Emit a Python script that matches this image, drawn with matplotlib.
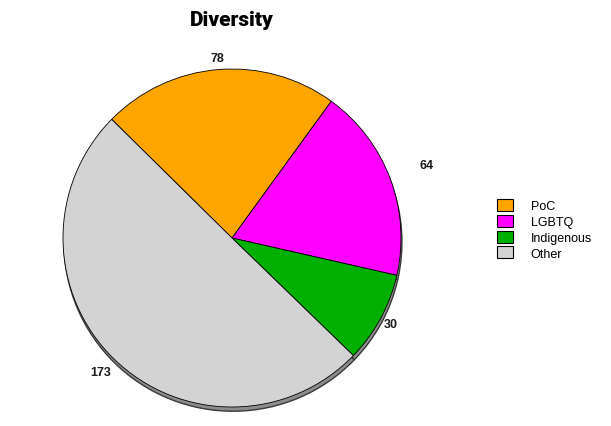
import numpy as np
import matplotlib.pyplot as plt
from matplotlib.patches import Patch

categories = ['PoC', 'LGBTQ', 'Indigenous', 'Other']
counts = [78, 64, 30, 173]
colors = ['#FFA500', '#FF00FF', '#00B000', '#D3D3D3']
label_dist = [1.07, 1.23, 1.07, 1.11]

fig = plt.figure(figsize=(6.11, 4.27), dpi=100)
ax = fig.add_axes([63 / 611, 19 / 427, 338 / 611, 338 / 427])

start = 135.4
wedges, _ = ax.pie(counts, colors=colors, startangle=start, counterclock=False,
                   wedgeprops={'edgecolor': 'black', 'linewidth': 0.6},
                   shadow={'ox': 0.004, 'oy': -0.018, 'facecolor': '#8c8c8c',
                           'edgecolor': '#3a3a3a', 'linewidth': 1.0, 'alpha': 1})
ax.set_xlim(-1, 1)
ax.set_ylim(-1, 1)

# value labels around the pie
total = sum(counts)
angle = start
for val, d in zip(counts, label_dist):
    span = val / total * 360
    mid = np.deg2rad(angle - span / 2)
    ax.text(d * np.cos(mid), d * np.sin(mid), str(val), ha='center', va='center',
            fontsize=9, fontweight='bold', family='Liberation Sans', color='#1a1a1a')
    angle -= span

fig.text(232 / 611, 1 - 20 / 427, 'Diversity', ha='center', va='center',
         fontsize=15, fontweight='black', family=['Roboto', 'DejaVu Sans'])

handles = [Patch(facecolor=c, edgecolor='black', linewidth=0.8) for c in colors]
fig.legend(handles, categories, loc='upper left', bbox_to_anchor=(497 / 611, 1 - 200 / 427),
           frameon=False, prop={'family': 'Liberation Sans', 'size': 9},
           handlelength=1.3, handleheight=1.1, handletextpad=1.4, labelspacing=0.2,
           borderaxespad=0, borderpad=0)

fig.savefig('out.png', dpi=100)
